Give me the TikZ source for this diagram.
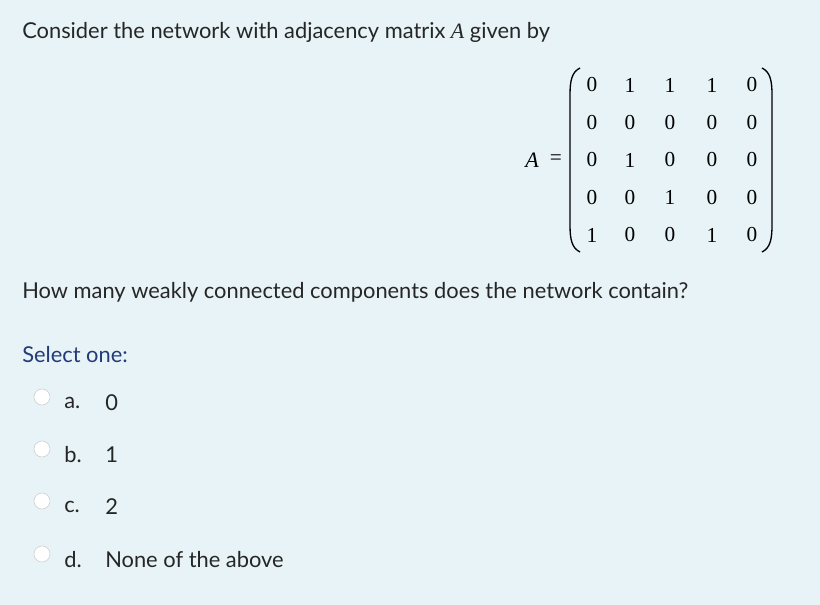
\documentclass[tikz,border=0pt]{standalone}
\usepackage{fontspec}
\setmainfont{Lato}
\newfontfamily\serifm{Liberation Serif}
\begin{document}
\begin{tikzpicture}[x=0.75pt,y=-0.75pt,
  txt/.style={anchor=west,inner sep=0pt,font=\fontsize{16.4}{19}\selectfont,text=black!85},
  ent/.style={inner sep=0pt,font=\serifm\fontsize{16}{17}\selectfont},
  radio/.style={circle,draw=black!20,fill=white,minimum size=12pt,inner sep=0pt}]
\fill[fill={rgb,255:red,231;green,243;blue,246}] (0,0) rectangle (820,605);
\node[txt] (q1) at (22,32) {Consider the network with adjacency matrix \textit{\serifm A} given by};
\node[ent,font=\serifm\itshape\fontsize{16.5}{17}\selectfont] (A) at (532,160) {A};
\node[ent] (eq) at (556,160) {=};
\foreach \r [count=\i] in {{0,1,1,1,0},{0,0,0,0,0},{0,1,0,0,0},{0,0,1,0,0},{1,0,0,1,0}}{
  \foreach \v [count=\j] in \r {
    \pgfmathsetmacro\xx{{592,630,670,712,752}[\j-1]}
    \pgfmathsetmacro\yy{85+(\i-1)*37.5}
    \node[ent] (m\i\j) at (\xx,\yy) {\v};
  }}
\draw[line width=1pt] (580,68) .. controls (572,72) and (570,80) .. (570,95) -- (570,225) .. controls (570,240) and (572,248) .. (580,252);
\draw[line width=1pt] (762,68) .. controls (770,72) and (772,80) .. (772,95) -- (772,225) .. controls (772,240) and (770,248) .. (762,252);
\node[txt] (q2) at (22,292) {How many weakly connected components does the network contain?};
\node[txt,text={rgb,255:red,35;green,60;blue,120}] (sel) at (22,355) {Select one:};
\foreach \y/\l/\a [count=\k] in {403/a./0,455/b./1,507/c./2,560/d./None of the above}{
  \node[radio] (r\k) at (42,\y-6) {};
  \node[txt] (l\k) at (64,\y) {\l};
  \node[txt] (t\k) at (105,\y) {\a};
}
\end{tikzpicture}
\end{document}
